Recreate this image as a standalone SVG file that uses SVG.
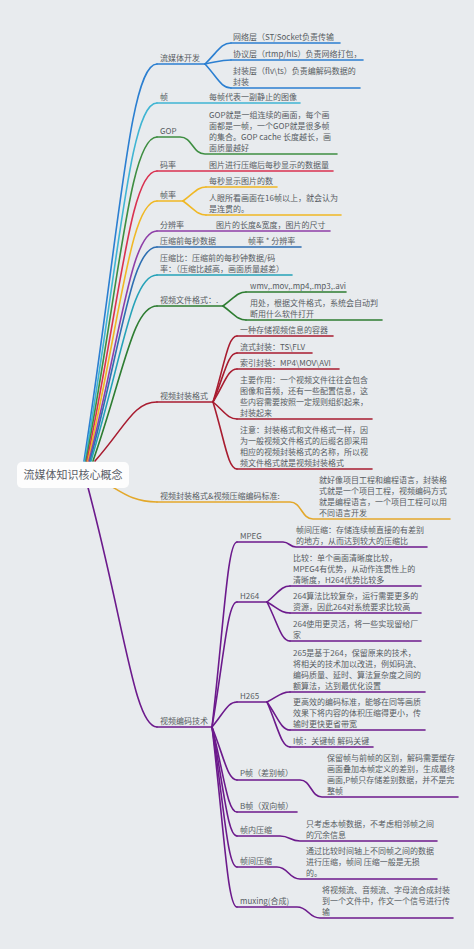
<svg xmlns="http://www.w3.org/2000/svg" width="474" height="949" viewBox="0 0 474 949">
<style>
text{font-family:"Noto Sans CJK SC","Noto Sans",sans-serif;font-size:8px;fill:#575c62}
.rt{font-size:11px;fill:#5a6068}
path,line{fill:none;stroke-width:1.6;stroke-linecap:round}
.c1{stroke:#2b7fd1}.c2{stroke:#3fb5d3}.c3{stroke:#3e8e41}.c4{stroke:#d93250}.c5{stroke:#f0b825}.c6{stroke:#8e3fa8}.c7{stroke:#2e6fb2}.c8{stroke:#25a2b8}.c9{stroke:#2e7d32}.c10{stroke:#a81c30}.c11{stroke:#e3a82b}.c12{stroke:#6c1a8c}
</style>
<rect width="474" height="949" fill="#e8ebee"/>
<g id="connectors">
<path class="c1" d="M84,461 C119.8,230.7 129.3,64 157,64"/>
<path class="c2" d="M85,461 C120.3,253.4 129.6,103 157,103"/>
<path class="c3" d="M86,461 C120.8,273.1 130,137 157,137"/>
<path class="c4" d="M87,461 C121.3,292.8 130.4,171 157,171"/>
<path class="c5" d="M88,461 C121.8,310.2 130.8,201 157,201"/>
<path class="c6" d="M89,461 C122.3,327.6 131.2,231 157,231"/>
<path class="c7" d="M90,461 C122.8,336.9 131.5,247 157,247"/>
<path class="c8" d="M91,461 C123.3,353.1 131.9,275 157,275"/>
<path class="c9" d="M93,461 C124.4,371.1 132.7,306 157,306"/>
<path class="c10" d="M95,461 C125.4,426.8 133.4,402 157,402"/>
<path class="c11" d="M100,480 C120,490 130,502 157,502"/>
<path class="c12" d="M86,480 C124,620 134,727 157,727"/>
<path class="c1" d="M205,64 C217.7,51.8 221.1,43 231,43"/>
<path class="c1" d="M205,64 C217.7,61.7 221.1,60 231,60"/>
<path class="c1" d="M205,64 C217.7,77.9 221.1,88 231,88"/>
<path class="c5" d="M183,201 C194.3,192.9 197.3,187 206,187"/>
<path class="c5" d="M183,201 C194.3,209.1 197.3,215 206,215"/>
<path class="c9" d="M223,306 C234.3,297.9 237.3,292 246,292"/>
<path class="c9" d="M223,306 C234.3,314.1 237.3,320 246,320"/>
<path class="c10" d="M213,402 C224.8,363.7 227.9,336 237,336"/>
<path class="c10" d="M213,402 C224.8,373.6 227.9,353 237,353"/>
<path class="c10" d="M213,402 C224.8,382.9 227.9,369 237,369"/>
<path class="c10" d="M213,402 C224.8,411.9 227.9,419 237,419"/>
<path class="c10" d="M213,402 C224.8,440.9 227.9,469 237,469"/>
<path class="c12" d="M212,727 C224.3,619.7 227.5,542 237,542"/>
<path class="c12" d="M212,727 C224.3,654.5 227.5,602 237,602"/>
<path class="c12" d="M212,727 C224.3,712.5 227.5,702 237,702"/>
<path class="c12" d="M212,727 C224.3,757.7 227.5,780 237,780"/>
<path class="c12" d="M212,727 C224.3,776.3 227.5,812 237,812"/>
<path class="c12" d="M212,727 C224.3,790.2 227.5,836 237,836"/>
<path class="c12" d="M212,727 C224.3,808.2 227.5,867 237,867"/>
<path class="c12" d="M212,727 C224.3,831.4 227.5,907 237,907"/>
<path class="c12" d="M267,602 C278.3,592.7 281.3,586 290,586"/>
<path class="c12" d="M267,602 C278.3,608.4 281.3,613 290,613"/>
<path class="c12" d="M267,602 C278.3,624.6 281.3,641 290,641"/>
<path class="c12" d="M267,702 C278.3,696.2 281.3,692 290,692"/>
<path class="c12" d="M267,702 C278.3,718.2 281.3,730 290,730"/>
<path class="c12" d="M267,702 C278.3,728.1 281.3,747 290,747"/>
</g>
<g id="root">
<rect x="17" y="462" width="112" height="26" rx="5" fill="#fdfdfd"/>
<text class="rt" x="73" y="479" text-anchor="middle">流媒体知识核心概念</text>
</g>
<g id="n-streaming-dev">
<line class="c1" x1="157" y1="64" x2="205" y2="64"/>
<text x="160" y="61">流媒体开发</text>
</g>
<g id="n-network">
<line class="c1" x1="231" y1="43" x2="340" y2="43"/>
<text x="233" y="40">网络层（ST/Socket负责传输</text>
</g>
<g id="n-protocol">
<line class="c1" x1="231" y1="60" x2="363" y2="60"/>
<text x="233" y="57">协议层（rtmp/hls）负责网络打包，</text>
</g>
<g id="n-encap-layer">
<line class="c1" x1="231" y1="88" x2="360" y2="88"/>
<text x="233" y="74">封装层（flv\ts）负责编解码数据的</text>
<text x="233" y="85">封装</text>
</g>
<g id="n-frame">
<line class="c2" x1="157" y1="103" x2="300" y2="103"/>
<text x="160" y="100">帧</text>
<text x="209" y="100">每帧代表一副静止的图像</text>
</g>
<g id="n-gop">
<path class="c3" d="M157,137 L180,137 C192.5,137 192.5,154 205,154 L337,154"/>
<text x="160" y="134">GOP</text>
<text x="209" y="118">GOP就是一组连续的画面，每个画</text>
<text x="209" y="129">面都是一帧，一个GOP就是很多帧</text>
<text x="209" y="140">的集合。GOP cache 长度越长，画</text>
<text x="209" y="151">面质量越好</text>
</g>
<g id="n-bitrate">
<line class="c4" x1="157" y1="171" x2="333" y2="171"/>
<text x="160" y="168">码率</text>
<text x="209" y="168">图片进行压缩后每秒显示的数据量</text>
</g>
<g id="n-framerate">
<line class="c5" x1="157" y1="201" x2="183" y2="201"/>
<text x="160" y="198">帧率</text>
</g>
<g id="n-fr1">
<line class="c5" x1="206" y1="187" x2="277" y2="187"/>
<text x="209" y="184">每秒显示图片的数</text>
</g>
<g id="n-fr2">
<line class="c5" x1="206" y1="215" x2="341" y2="215"/>
<text x="209" y="201">人眼所看画面在16帧以上，就会认为</text>
<text x="209" y="212">是连贯的。</text>
</g>
<g id="n-resolution">
<line class="c6" x1="157" y1="231" x2="330" y2="231"/>
<text x="160" y="228">分辨率</text>
<text x="216" y="228">图片的长度&amp;宽度，图片的尺寸</text>
</g>
<g id="n-raw-data">
<line class="c7" x1="157" y1="247" x2="301" y2="247"/>
<text x="160" y="244">压缩前每秒数据</text>
<text x="248" y="244">帧率 * 分辨率</text>
</g>
<g id="n-ratio">
<line class="c8" x1="157" y1="275" x2="292" y2="275"/>
<text x="160" y="261">压缩比：压缩前的每秒钟数据/码</text>
<text x="160" y="272">率：（压缩比越高，画面质量越差）</text>
</g>
<g id="n-fileformat">
<line class="c9" x1="157" y1="306" x2="223" y2="306"/>
<text x="160" y="303">视频文件格式：.</text>
</g>
<g id="n-ff1">
<line class="c9" x1="246" y1="292" x2="346" y2="292"/>
<text x="250" y="289">wmv,.mov,.mp4,.mp3,.avi</text>
</g>
<g id="n-ff2">
<line class="c9" x1="246" y1="320" x2="382" y2="320"/>
<text x="250" y="306">用处，根据文件格式，系统会自动判</text>
<text x="250" y="317">断用什么软件打开</text>
</g>
<g id="n-container">
<line class="c10" x1="157" y1="402" x2="213" y2="402"/>
<text x="160" y="399">视频封装格式</text>
</g>
<g id="n-ct1">
<line class="c10" x1="237" y1="336" x2="333" y2="336"/>
<text x="240" y="333">一种存储视频信息的容器</text>
</g>
<g id="n-ct2">
<line class="c10" x1="237" y1="353" x2="312" y2="353"/>
<text x="240" y="350">流式封装：TS\FLV</text>
</g>
<g id="n-ct3">
<line class="c10" x1="237" y1="369" x2="339" y2="369"/>
<text x="240" y="366">索引封装：MP4\MOV\AVI</text>
</g>
<g id="n-ct4">
<line class="c10" x1="237" y1="419" x2="372" y2="419"/>
<text x="240" y="383">主要作用：一个视频文件往往会包含</text>
<text x="240" y="394">图像和音频，还有一些配置信息，这</text>
<text x="240" y="405">些内容需要按照一定规则组织起来，</text>
<text x="240" y="416">封装起来</text>
</g>
<g id="n-ct5">
<line class="c10" x1="237" y1="469" x2="372" y2="469"/>
<text x="240" y="433">注意：封装格式和文件格式一样，因</text>
<text x="240" y="444">为一般视频文件格式的后缀名即采用</text>
<text x="240" y="455">相应的视频封装格式的名称，所以视</text>
<text x="240" y="466">频文件格式就是视频封装格式</text>
</g>
<g id="n-container-vs-codec">
<path class="c11" d="M157,502 L290,502 C301.5,502 301.5,519 313,519 L450,519"/>
<text x="160" y="499">视频封装格式&amp;视频压缩编码标准:</text>
<text x="319" y="483">就好像项目工程和编程语言，封装格</text>
<text x="319" y="494">式就是一个项目工程，视频编码方式</text>
<text x="319" y="505">就是编程语言，一个项目工程可以用</text>
<text x="319" y="516">不同语言开发</text>
</g>
<g id="n-codec">
<line class="c12" x1="157" y1="727" x2="212" y2="727"/>
<text x="160" y="724">视频编码技术</text>
</g>
<g id="n-mpeg">
<path class="c12" d="M237,542 L283,542 C289.5,542 289.5,547 296,547 L427,547"/>
<text x="240" y="539">MPEG</text>
<text x="296" y="533">帧间压缩：存储连续帧直接的有差别</text>
<text x="296" y="544">的地方，从而达到较大的压缩比</text>
</g>
<g id="n-h264">
<line class="c12" x1="237" y1="602" x2="267" y2="602"/>
<text x="240" y="599">H264</text>
</g>
<g id="n-h264-1">
<line class="c12" x1="290" y1="586" x2="421" y2="586"/>
<text x="293" y="561">比较：单个画面清晰度比较，</text>
<text x="293" y="572">MPEG4有优势，从动作连贯性上的</text>
<text x="293" y="583">清晰度，H264优势比较多</text>
</g>
<g id="n-h264-2">
<line class="c12" x1="290" y1="613" x2="421" y2="613"/>
<text x="293" y="599">264算法比较复杂，运行需要更多的</text>
<text x="293" y="610">资源，因此264对系统要求比较高</text>
</g>
<g id="n-h264-3">
<line class="c12" x1="290" y1="641" x2="421" y2="641"/>
<text x="293" y="627">264使用更灵活，将一些实现留给厂</text>
<text x="293" y="638">家</text>
</g>
<g id="n-h265">
<line class="c12" x1="237" y1="702" x2="267" y2="702"/>
<text x="240" y="699">H265</text>
</g>
<g id="n-h265-1">
<line class="c12" x1="290" y1="692" x2="425" y2="692"/>
<text x="293" y="656">265是基于264，保留原来的技术，</text>
<text x="293" y="667">将相关的技术加以改进，例如码流、</text>
<text x="293" y="678">编码质量、延时、算法复杂度之间的</text>
<text x="293" y="689">额算法，达到最优化设置</text>
</g>
<g id="n-h265-2">
<line class="c12" x1="290" y1="730" x2="425" y2="730"/>
<text x="293" y="705">更高效的编码标准，能够在同等画质</text>
<text x="293" y="716">效果下将内容的体积压缩得更小，传</text>
<text x="293" y="727">输时更快更省带宽</text>
</g>
<g id="n-h265-3">
<line class="c12" x1="290" y1="747" x2="373" y2="747"/>
<text x="293" y="744">I帧：关键帧 解码关键</text>
</g>
<g id="n-pframe">
<path class="c12" d="M237,780 L300,780 C311,780 311,797 322,797 L458,797"/>
<text x="240" y="776">P帧（差别帧）</text>
<text x="327" y="761">保留帧与前帧的区别，解码需要缓存</text>
<text x="327" y="772">画面叠加本帧定义的差别，生成最终</text>
<text x="327" y="783">画面,P帧只存储差别数据，并不是完</text>
<text x="327" y="794">整帧</text>
</g>
<g id="n-bframe">
<line class="c12" x1="237" y1="812" x2="297" y2="812"/>
<text x="240" y="809">B帧（双向帧）</text>
</g>
<g id="n-intra">
<path class="c12" d="M237,836 L280,836 C290,836 290,841 300,841 L437,841"/>
<text x="240" y="833">帧内压缩</text>
<text x="306" y="827">只考虑本帧数据，不考虑相邻帧之间</text>
<text x="306" y="838">的冗余信息</text>
</g>
<g id="n-inter">
<path class="c12" d="M237,867 L277,867 C288.5,867 288.5,879 300,879 L437,879"/>
<text x="240" y="864">帧间压缩</text>
<text x="306" y="854">通过比较时间轴上不同帧之间的数据</text>
<text x="306" y="865">进行压缩，帧间 压缩一般是无损</text>
<text x="306" y="876">的。</text>
</g>
<g id="n-muxing">
<path class="c12" d="M237,907 L297,907 C308.5,907 308.5,918 320,918 L453,918"/>
<text x="240" y="904">muxing(合成)</text>
<text x="322" y="893">将视频流、音频流、字母流合成封装</text>
<text x="322" y="904">到一个文件中，作文一个信号进行传</text>
<text x="322" y="915">输</text>
</g>
</svg>
